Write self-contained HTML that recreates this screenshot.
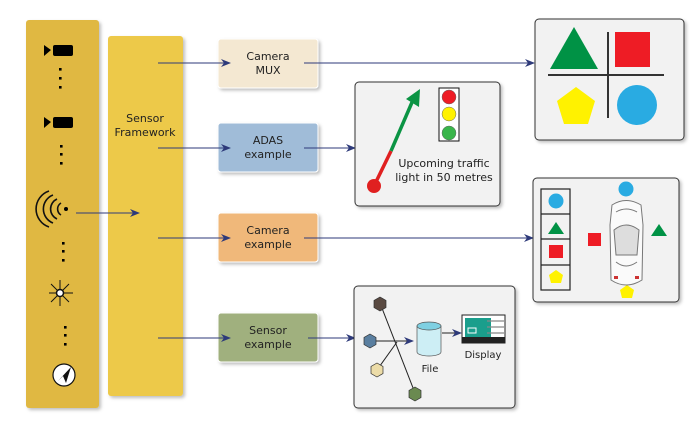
<!DOCTYPE html>
<html><head><meta charset="utf-8"><style>
body{margin:0;background:#fff;}
svg{display:block;font-family:"DejaVu Sans","Liberation Sans",sans-serif;}
</style></head><body>
<svg width="690" height="421" viewBox="0 0 690 421" xmlns="http://www.w3.org/2000/svg">
<defs>
<marker id="ar" markerWidth="10" markerHeight="8" refX="9" refY="4" orient="auto" markerUnits="userSpaceOnUse"><path d="M0,0 L10,4 L0,8 L3,4 Z" fill="#2e3a7a"/></marker>
<filter id="sh" x="-10%" y="-10%" width="130%" height="130%"><feDropShadow dx="2" dy="2" stdDeviation="1.5" flood-color="#000" flood-opacity="0.25"/></filter>
</defs>
<!-- left column -->
<rect x="26" y="20" width="73" height="388" rx="3" fill="#e0b842" filter="url(#sh)"/>
<rect x="108" y="36" width="75" height="360" rx="3" fill="#edc94a" filter="url(#sh)"/>
<text x="145" y="122" font-size="11" text-anchor="middle" fill="#222">Sensor</text>
<text x="145" y="136" font-size="11" text-anchor="middle" fill="#222">Framework</text>
<!-- cameras -->
<g fill="#000">
<path d="M44,45 L51,50 L44,56Z"/><rect x="53" y="45" width="20" height="11" rx="2"/>
<rect x="59" y="68" width="2.6" height="2.6"/><rect x="59" y="77" width="2.6" height="2.6"/><rect x="59" y="86" width="2.6" height="2.6"/>
<path d="M44,117 L51,122 L44,128Z"/><rect x="53" y="117" width="20" height="11" rx="2"/>
<rect x="60" y="145" width="2.6" height="2.6"/><rect x="60" y="153" width="2.6" height="2.6"/><rect x="60" y="162" width="2.6" height="2.6"/>
<circle cx="66" cy="209" r="2"/>
<rect x="62" y="242" width="2.6" height="2.6"/><rect x="62" y="250" width="2.6" height="2.6"/><rect x="62" y="259" width="2.6" height="2.6"/>
<rect x="64" y="326" width="2.6" height="2.6"/><rect x="64" y="334" width="2.6" height="2.6"/><rect x="64" y="343" width="2.6" height="2.6"/>
</g>
<g fill="none" stroke="#111" stroke-width="1.6">
<path d="M61,203 A7,7 0 0 0 61,215"/><path d="M57,199 A11,11 0 0 0 57,219"/><path d="M53,195 A15,15 0 0 0 53,223"/><path d="M49,191 A19,19 0 0 0 49,227"/>
</g>
<g stroke="#111" stroke-width="1"><line x1="49" y1="293" x2="73" y2="293"/><line x1="60" y1="280" x2="60" y2="306"/><line x1="51" y1="284" x2="69" y2="302"/><line x1="51" y1="302" x2="69" y2="284"/></g>
<circle cx="60" cy="293" r="3.5" fill="#fff" stroke="#111" stroke-width="1.5"/>
<circle cx="64" cy="375" r="11" fill="#fff" stroke="#111" stroke-width="1.2"/>
<path d="M71,367 L58,381 L63,376 L66,383 Z" fill="#111"/>
<!-- middle boxes -->
<g filter="url(#sh)">
<rect x="218" y="39" width="100" height="49" rx="3" fill="#f4e8d2" stroke="#fff"/>
<rect x="218" y="123" width="100" height="49" rx="3" fill="#a0bcd8" stroke="#fff"/>
<rect x="218" y="213" width="100" height="49" rx="3" fill="#f0b87a" stroke="#fff"/>
<rect x="218" y="313" width="100" height="49" rx="3" fill="#a0b07e" stroke="#fff"/>
</g>
<g font-size="11" text-anchor="middle" fill="#222">
<text x="268" y="60">Camera</text><text x="268" y="74">MUX</text>
<text x="268" y="144">ADAS</text><text x="268" y="158">example</text>
<text x="268" y="234">Camera</text><text x="268" y="248">example</text>
<text x="268" y="334">Sensor</text><text x="268" y="348">example</text>
</g>
<!-- arrows -->
<g stroke="#2e3a7a" stroke-width="1" fill="none" marker-end="url(#ar)">
<line x1="76" y1="213" x2="139" y2="213"/>
<line x1="158" y1="63" x2="230" y2="63"/>
<line x1="158" y1="148" x2="230" y2="148"/>
<line x1="158" y1="238" x2="230" y2="238"/>
<line x1="158" y1="338" x2="230" y2="338"/>
<line x1="304" y1="63" x2="534" y2="63"/>
<line x1="304" y1="148" x2="355" y2="148"/>
<line x1="304" y1="238" x2="533" y2="238"/>
<line x1="308" y1="338" x2="355" y2="338"/>
</g>
<!-- panels -->
<g filter="url(#sh)" fill="#f2f2f2" stroke="#333" stroke-width="1">
<rect x="355" y="82" width="145" height="124" rx="4"/>
<rect x="535" y="19" width="149" height="121" rx="4"/>
<rect x="533" y="178" width="146" height="124" rx="4"/>
<rect x="354" y="286" width="161" height="122" rx="4"/>
</g>
<!-- traffic panel -->
<line x1="374" y1="186" x2="391" y2="151" stroke="#e02020" stroke-width="3.5"/>
<line x1="391" y1="151" x2="413" y2="100" stroke="#0b9444" stroke-width="3.5"/>
<path d="M420,89 L419,107 L406,99 Z" fill="#0b9444"/>
<circle cx="374" cy="186" r="7" fill="#e02020"/>
<rect x="439" y="88" width="20" height="53" fill="#fff" stroke="#111"/>
<circle cx="449" cy="97" r="7" fill="#ee1c25" stroke="#666" stroke-width=".5"/>
<circle cx="449" cy="114" r="7" fill="#fff200" stroke="#666" stroke-width=".5"/>
<circle cx="449" cy="133" r="7" fill="#39b54a" stroke="#666" stroke-width=".5"/>
<text x="444" y="167" font-size="11" text-anchor="middle" fill="#222">Upcoming traffic</text>
<text x="444" y="181" font-size="11" text-anchor="middle" fill="#222">light in 50 metres</text>
<!-- top right -->
<path d="M550,69 L574,27 L598,69Z" fill="#009245"/>
<rect x="615" y="32" width="35" height="35" fill="#ee1c25"/>
<line x1="608" y1="32" x2="608" y2="118" stroke="#333" stroke-width="2"/>
<line x1="548" y1="75" x2="664" y2="75" stroke="#333" stroke-width="2"/>
<path d="M576,87 L595,101 L588,124 L564,124 L557,101Z" fill="#fff200"/>
<circle cx="637" cy="105" r="20" fill="#29abe2"/>
<!-- car panel -->
<g stroke="#222" stroke-width="1.2" fill="none"><rect x="541" y="189" width="29" height="101"/><line x1="541" y1="214" x2="570" y2="214"/><line x1="541" y1="239" x2="570" y2="239"/><line x1="541" y1="265" x2="570" y2="265"/></g>
<circle cx="556" cy="201" r="7.5" fill="#29abe2"/>
<path d="M548,234 L556,222 L564,234Z" fill="#009245"/>
<rect x="549" y="245" width="14" height="13" fill="#ee1c25"/>
<path d="M556,270 L563,275 L561,283 L551,283 L549,275Z" fill="#fff200"/>
<circle cx="626" cy="189" r="7.5" fill="#29abe2"/>
<rect x="588" y="233" width="13" height="13" fill="#ee1c25"/>
<path d="M651,236 L659,224 L667,236Z" fill="#009245"/>
<path d="M627,285 L634,290 L632,298 L622,298 L620,290Z" fill="#fff200"/>
<g stroke="#777" stroke-width="1" fill="none">
<path d="M612,205 Q626,196 641,205 L643,225 L642,280 Q626,290 611,280 L610,225Z" fill="#fafafa"/>
<path d="M616,212 Q626,206 637,212"/>
<path d="M614,230 Q626,220 639,230 L637,255 L616,255Z" fill="#ddd"/>
<path d="M616,262 Q626,270 637,262"/>
</g>
<rect x="614" y="276" width="4" height="3" fill="#c33"/><rect x="635" y="276" width="4" height="3" fill="#c33"/>
<!-- sensor panel -->
<g stroke="#222" stroke-width="1"><line x1="380" y1="303" x2="415" y2="393"/><line x1="377" y1="370" x2="397" y2="342"/></g>
<line x1="370" y1="341" x2="413" y2="341" stroke="#222" stroke-width="1" marker-end="url(#ar)"/>
<g stroke="#333" stroke-width=".7">
<path d="M380,297 L386,300.5 L386,307.5 L380,311 L374,307.5 L374,300.5Z" fill="#5a4a42"/>
<path d="M370,334 L376,337.5 L376,344.5 L370,348 L364,344.5 L364,337.5Z" fill="#5a7fa0"/>
<path d="M377,363 L383,366.5 L383,373.5 L377,377 L371,373.5 L371,366.5Z" fill="#ecdca8"/>
<path d="M415,387 L421,390.5 L421,397.5 L415,401 L409,397.5 L409,390.5Z" fill="#6a8a50"/>
</g>
<path d="M417,326 L417,352 A12,4 0 0 0 441,352 L441,326Z" fill="#cdeef5" stroke="#555" stroke-width=".7"/>
<ellipse cx="429" cy="326" rx="12" ry="4" fill="#7fd0e2" stroke="#555" stroke-width=".7"/>
<text x="430" y="372" font-size="10" text-anchor="middle" fill="#222">File</text>
<line x1="442" y1="333" x2="461" y2="333" stroke="#222" stroke-width="1" marker-end="url(#ar)"/>
<rect x="462" y="315" width="43" height="28" fill="#fff" stroke="#222"/>
<rect x="465" y="318" width="26" height="19" fill="#1a9e8c"/>
<rect x="462" y="337" width="43" height="6" fill="#222"/>
<g stroke="#888" stroke-width="1.2"><line x1="487" y1="321" x2="504" y2="321"/><line x1="487" y1="327" x2="504" y2="327"/><line x1="487" y1="333" x2="504" y2="333"/></g>
<rect x="468" y="328" width="8" height="5" fill="none" stroke="#fff"/>
<text x="483" y="358" font-size="10" text-anchor="middle" fill="#222">Display</text>
</svg>
</body></html>
